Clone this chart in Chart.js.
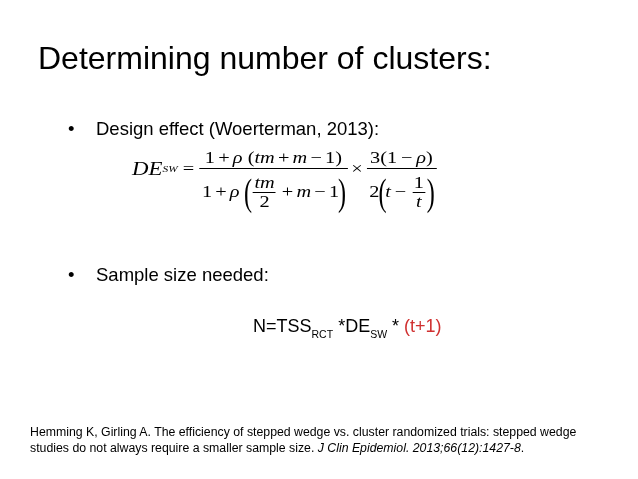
<!DOCTYPE html>
<html>
<head>
<meta charset="utf-8">
<script src="https://cdn.jsdelivr.net/npm/chart.js@4.4.0/dist/chart.umd.min.js"></script>
<style>
  html, body { margin: 0; padding: 0; background: #fff; }
  #slide { position: relative; width: 638px; height: 479px; overflow: hidden; font-family: "Liberation Sans", Arial, sans-serif; color: #000; }
  #bg { position: absolute; left: 0; top: 0; }
  .txt { position: absolute; white-space: nowrap; line-height: 1; }
  #title { left: 38px; top: 42px; font-size: 32px; }
  .bullet { font-size: 18.5px; }
  .bullet .dot { position: absolute; left: -28px; }
  #nline { left: 253px; top: 317px; font-size: 18px; }
  #nline sub { font-size: 10.5px; vertical-align: -6px; line-height: 0; }
  #nline .red { color: #d03030; }
  #cite { left: 30px; top: 424px; font-size: 12.3px; line-height: 16px; }

  /* formula */
  #formula { position: absolute; left: 132px; top: 123px; height: 92px; display: flex; align-items: center;
             font-family: "Liberation Serif", "Times New Roman", serif; font-size: 16px; line-height: 16px;
             transform: scaleX(1.27); transform-origin: 0 50%; }
  #formula i { font-style: italic; }
  .lhs { font-size: 18px; }
  .row { display: flex; align-items: center; white-space: nowrap; }
  .frac { display: flex; flex-direction: column; align-items: stretch; }
  .frac > .num { height: 46px; display: flex; align-items: flex-end; justify-content: center; padding: 0 2px 2px; box-sizing: border-box; border-bottom: 1px solid #000; }
  .frac > .den { height: 46px; display: flex; align-items: flex-start; justify-content: center; padding: 4px 2px 0; box-sizing: border-box; }
  .ifrac { display: flex; flex-direction: column; align-items: stretch; margin: 0 2px; }
  .ifrac > span { height: 15px; display: flex; justify-content: center; padding: 0 1px; }
  .ifrac > span:first-child { align-items: flex-end; border-bottom: 1px solid #000; padding-bottom: 1px; }
  .ifrac > span:last-child { align-items: flex-start; padding-top: 1px; }
  .op { margin: 0 3px; }
  .f1 .op { margin: 0 2.5px; }
  .bp { font-size: 38px; line-height: 38px; display: inline-block; transform: scale(0.5, 1); margin: 0 -4px; }
  .sub { font-size: 9px; font-style: italic; vertical-align: -3px; }
</style>
</head>
<body>
<div id="slide">
  <canvas id="bg" width="638" height="479"></canvas>
</div>
<script>
// slide content
const titleText = "Determining number of clusters:";
const bulletItems = ["Design effect (Woerterman, 2013):", "Sample size needed:"];
const bulletTops = [120, 266];
const sampleSize = ["N=TSS", "RCT", " *DE", "SW", " * ", "(t+1)"];
const citationLines = [
  "Hemming K, Girling A. The efficiency of stepped wedge vs. cluster randomized trials: stepped wedge",
  "studies do not always require a smaller sample size. ",
];
const citationItalic = "J Clin Epidemiol. 2013;66(12):1427-8";

// blank chart as the slide background
const bgCanvas = document.getElementById("bg");
new Chart(bgCanvas, {
  type: 'scatter',
  data: { datasets: [] },
  options: {
    responsive: false,
    animation: false,
    plugins: { legend: { display: false }, tooltip: { enabled: false } },
    scales: { x: { display: false }, y: { display: false } }
  }
});

const slide = document.getElementById("slide");

function addText(id, cls, html, left, top) {
  const d = document.createElement("div");
  if (id) d.id = id;
  d.className = "txt " + (cls || "");
  d.innerHTML = html;
  if (left != null) d.style.left = left + "px";
  if (top != null) d.style.top = top + "px";
  slide.appendChild(d);
  return d;
}

addText("title", "", titleText);

bulletItems.forEach(function(b, i) {
  addText(null, "bullet", '<span class="dot">\u2022</span>' + b, 96, bulletTops[i]);
});

addText("nline", "",
  sampleSize[0] + "<sub>" + sampleSize[1] + "</sub>" + sampleSize[2] +
  "<sub>" + sampleSize[3] + "</sub>" + sampleSize[4] +
  '<span class="red">' + sampleSize[5] + "</span>");

addText("cite", "",
  citationLines[0] + "<br>" + citationLines[1] + "<i>" + citationItalic + "</i>.");

// design effect formula
const f = document.createElement("div");
f.id = "formula";
f.innerHTML =
  '<span class="row"><i class="lhs">DE</i><span class="sub">SW</span></span>' +
  '<span class="op" style="margin:0 4px">=</span>' +
  '<span class="frac f1">' +
    '<span class="num">1<span class="op">+</span><i>\u03c1</i>&nbsp;(<i>tm</i><span class="op">+</span><i>m</i><span class="op">\u2212</span>1)</span>' +
    '<span class="den"><span class="row">1<span class="op">+</span><i>\u03c1</i>&nbsp;<span class="bp">(</span>' +
      '<span class="ifrac"><span><i>tm</i></span><span>2</span></span>' +
      '<span class="op">+</span><i>m</i><span class="op">\u2212</span>1<span class="bp">)</span></span></span>' +
  '</span>' +
  '<span class="op">\u00d7</span>' +
  '<span class="frac">' +
    '<span class="num">3(1<span class="op">\u2212</span><i>\u03c1</i>)</span>' +
    '<span class="den"><span class="row">2<span class="bp">(</span><i>t</i><span class="op">\u2212</span>' +
      '<span class="ifrac"><span>1</span><span><i>t</i></span></span><span class="bp">)</span></span></span>' +
  '</span>';
slide.appendChild(f);
</script>
</body>
</html>
